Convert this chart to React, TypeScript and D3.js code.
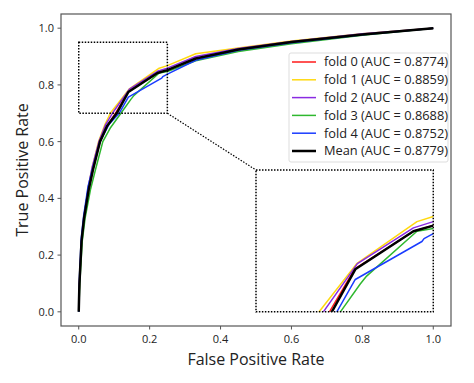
import React from "react";
import * as d3 from "d3";

// ROC data per fold: [FPR, TPR]
const fold0: [number, number][] = [
  [0, 0], [0.002, 0.1], [0.008, 0.25], [0.015, 0.33], [0.028, 0.43], [0.04, 0.5], [0.06, 0.6], [0.08, 0.655],
  [0.1036, 0.7], [0.1375, 0.772], [0.142, 0.778], [0.222, 0.842], [0.25, 0.852], [0.33, 0.893], [0.45, 0.925],
  [0.6, 0.951], [0.8, 0.978], [1, 1],
];
const fold1: [number, number][] = [
  [0, 0], [0.002, 0.1], [0.008, 0.25], [0.015, 0.335], [0.027, 0.44], [0.038, 0.51], [0.056, 0.6], [0.074, 0.66],
  [0.089, 0.7], [0.142, 0.785], [0.227, 0.859], [0.25, 0.868], [0.33, 0.91], [0.45, 0.93], [0.6, 0.955],
  [0.8, 0.98], [1, 1],
];
const fold2: [number, number][] = [
  [0, 0], [0.002, 0.1], [0.008, 0.25], [0.015, 0.335], [0.027, 0.44], [0.038, 0.51], [0.057, 0.6], [0.076, 0.66],
  [0.095, 0.7], [0.143, 0.785], [0.222, 0.848], [0.25, 0.859], [0.33, 0.9], [0.45, 0.928], [0.6, 0.953],
  [0.8, 0.98], [1, 1],
];
const fold3: [number, number][] = [
  [0, 0], [0.003, 0.1], [0.01, 0.25], [0.018, 0.33], [0.033, 0.43], [0.047, 0.5], [0.068, 0.6], [0.09, 0.65],
  [0.119, 0.7], [0.147, 0.749], [0.156, 0.763], [0.227, 0.842], [0.25, 0.847], [0.33, 0.885], [0.45, 0.918],
  [0.6, 0.945], [0.8, 0.975], [1, 1],
];
const fold4: [number, number][] = [
  [0, 0], [0.002, 0.12], [0.007, 0.26], [0.014, 0.34], [0.026, 0.44], [0.04, 0.51], [0.06, 0.6], [0.085, 0.66],
  [0.114, 0.7], [0.14, 0.757], [0.234, 0.824], [0.237, 0.829], [0.25, 0.838], [0.33, 0.887], [0.45, 0.922],
  [0.6, 0.949], [0.8, 0.977], [1, 1],
];
const meanRoc: [number, number][] = [
  [0, 0], [0.002, 0.1], [0.008, 0.25], [0.015, 0.33], [0.028, 0.43], [0.04, 0.5], [0.06, 0.6], [0.08, 0.655],
  [0.107, 0.7], [0.14, 0.775], [0.222, 0.842], [0.25, 0.852], [0.33, 0.893], [0.45, 0.925], [0.6, 0.951],
  [0.8, 0.978], [1, 1],
];

const seriesNames = [
  "fold 0 (AUC = 0.8774)",
  "fold 1 (AUC = 0.8859)",
  "fold 2 (AUC = 0.8824)",
  "fold 3 (AUC = 0.8688)",
  "fold 4 (AUC = 0.8752)",
  "Mean (AUC = 0.8779)",
];
const seriesData = [fold0, fold1, fold2, fold3, fold4, meanRoc];
const seriesColors = ["#ff1a1a", "#ffd90f", "#8a2be2", "#2fb82f", "#1a3cff", "#000000"];
const seriesWidths = [1.5, 1.5, 1.5, 1.5, 1.5, 2.5];

const ticks = [0, 0.2, 0.4, 0.6, 0.8, 1.0];
const zoomX: [number, number] = [0, 0.25];
const zoomY: [number, number] = [0.7, 0.95];
const insetX: [number, number] = [0.5, 1.0];
const insetY: [number, number] = [0.0, 0.5];

const W = 474;
const H = 383;
const FONT = "'Open Sans', 'DejaVu Sans', sans-serif";

export default function App() {
  const x = d3.scaleLinear().domain([-0.05, 1.05]).range([61, 451]);
  const y = d3.scaleLinear().domain([-0.05, 1.05]).range([326, 14]);

  const line = d3
    .line<[number, number]>()
    .x((d) => x(d[0]))
    .y((d) => y(d[1]));

  const ix0 = x(insetX[0]);
  const ix1 = x(insetX[1]);
  const iy0 = y(insetY[1]);
  const iy1 = y(insetY[0]);
  const xi = d3.scaleLinear().domain(zoomX).range([ix0, ix1]);
  const yi = d3.scaleLinear().domain(zoomY).range([iy1, iy0]);
  const lineIn = d3
    .line<[number, number]>()
    .x((d) => xi(d[0]))
    .y((d) => yi(d[1]));

  const [ax0, ax1] = x.range();
  const [ay1, ay0] = y.range();

  const legX = 289;
  const legY = 53;
  const legW = 159;
  const legH = 109;
  const rowH = 17.8;

  return (
    <div style={{ position: "absolute", left: 0, top: 0 }}>
      <svg width={W} height={H} style={{ display: "block", background: "#fff" }}>
        <defs>
          <clipPath id="mainClip">
            <rect x={ax0} y={ay0} width={ax1 - ax0} height={ay1 - ay0} />
          </clipPath>
          <clipPath id="insetClip">
            <rect x={ix0} y={iy0} width={ix1 - ix0} height={iy1 - iy0} />
          </clipPath>
        </defs>
        <rect x={0} y={0} width={W} height={H} fill="#fff" />

        {/* main curves */}
        <g clipPath="url(#mainClip)">
          {seriesData.map((d, i) => (
            <path
              key={i}
              d={line(d) || ""}
              fill="none"
              stroke={seriesColors[i]}
              strokeWidth={seriesWidths[i]}
              strokeLinejoin="round"
            />
          ))}
        </g>

        {/* zoom rectangle */}
        <rect
          x={x(zoomX[0])}
          y={y(zoomY[1])}
          width={x(zoomX[1]) - x(zoomX[0])}
          height={y(zoomY[0]) - y(zoomY[1])}
          fill="none"
          stroke="#000"
          strokeWidth={1.5}
          strokeDasharray="1.5,1.5"
        />
        <line
          x1={x(zoomX[1])}
          y1={y(zoomY[0])}
          x2={ix0}
          y2={iy0}
          stroke="#000"
          strokeWidth={1.2}
          strokeDasharray="1.5,1.5"
        />

        {/* inset */}
        <rect x={ix0} y={iy0} width={ix1 - ix0} height={iy1 - iy0} fill="#fff" />
        <g clipPath="url(#insetClip)">
          {seriesData.map((d, i) => (
            <path
              key={i}
              d={lineIn(d) || ""}
              fill="none"
              stroke={seriesColors[i]}
              strokeWidth={i === 5 ? 2.5 : 1.5}
              strokeLinejoin="round"
            />
          ))}
        </g>
        <rect
          x={ix0}
          y={iy0}
          width={ix1 - ix0}
          height={iy1 - iy0}
          fill="none"
          stroke="#000"
          strokeWidth={1.5}
          strokeDasharray="1.5,1.5"
        />

        {/* frame */}
        <rect x={ax0} y={ay0} width={ax1 - ax0} height={ay1 - ay0} fill="none" stroke="#555" strokeWidth={1.2} />

        {/* x ticks */}
        {ticks.map((t) => (
          <g key={"x" + t}>
            <line x1={x(t)} x2={x(t)} y1={ay1} y2={ay1 + 3.5} stroke="#555" strokeWidth={1} />
            <text x={x(t)} y={343} textAnchor="middle" fontSize={11} fontFamily={FONT} fill="#222">
              {t.toFixed(1)}
            </text>
          </g>
        ))}
        {/* y ticks */}
        {ticks.map((t) => (
          <g key={"y" + t}>
            <line x1={ax0 - 3.5} x2={ax0} y1={y(t)} y2={y(t)} stroke="#555" strokeWidth={1} />
            <text x={54} y={y(t) + 4} textAnchor="end" fontSize={11} fontFamily={FONT} fill="#222">
              {t.toFixed(1)}
            </text>
          </g>
        ))}

        {/* axis labels */}
        <text x={(ax0 + ax1) / 2} y={364.5} textAnchor="middle" fontSize={16} fontFamily={FONT} fill="#222">
          False Positive Rate
        </text>
        <text
          transform={`translate(28, ${(ay0 + ay1) / 2}) rotate(-90)`}
          textAnchor="middle"
          fontSize={16}
          fontFamily={FONT}
          fill="#222"
        >
          True Positive Rate
        </text>

        {/* legend */}
        <rect x={legX} y={legY} width={legW} height={legH} rx={2} fill="#fff" fillOpacity={0.85} stroke="#ddd" strokeWidth={1} />
        {seriesNames.map((name, i) => {
          const cy = legY + 9 + i * rowH;
          return (
            <g key={name}>
              <line x1={legX + 3} x2={legX + 27} y1={cy} y2={cy} stroke={seriesColors[i]} strokeWidth={seriesWidths[i]} />
              <text x={legX + 35} y={cy + 4.3} fontSize={12.8} fontFamily={FONT} fill="#222">
                {name}
              </text>
            </g>
          );
        })}
      </svg>
    </div>
  );
}
